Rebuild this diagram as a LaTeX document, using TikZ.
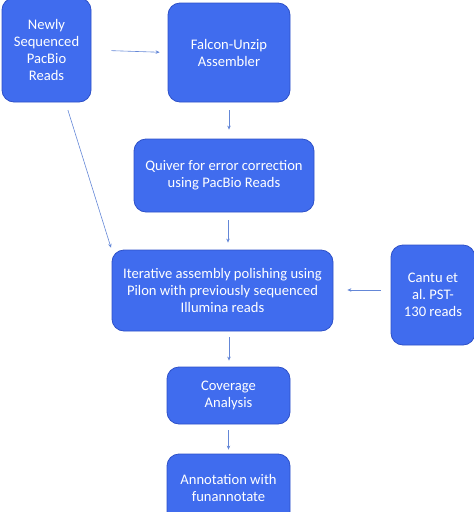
\documentclass[tikz,border=0pt]{standalone}
\usepackage{fontspec}
\setmainfont{Carlito}
\usetikzlibrary{arrows.meta}
\definecolor{boxfill}{RGB}{64,108,238}
\definecolor{boxedge}{RGB}{45,80,200}
\definecolor{arrcol}{RGB}{100,135,215}
\begin{document}
\begin{tikzpicture}[x=1pt,y=-1pt,
  box/.style={draw=boxedge,line width=0.8pt,fill=boxfill,rounded corners=12pt,
    text=white,align=center,font=\fontsize{14.6}{17}\selectfont,inner sep=0pt},
  arr/.style={draw=arrcol,line width=0.6pt,-{Stealth[length=4pt,width=3.5pt]}}]
\useasboundingbox (0,0) rectangle (474,512);
\node[box,minimum width=89pt,minimum height=104pt] (b1) at (46.5,50) {Newly\\Sequenced\\PacBio\\Reads};
\node[box,minimum width=122pt,minimum height=99pt] (b2) at (229,52.5) {Falcon-Unzip\\Assembler};
\node[box,minimum width=180pt,minimum height=73pt] (b3) at (224,175.5) {Quiver for error correction\\using PacBio Reads};
\node[box,minimum width=221pt,minimum height=81pt] (b4) at (222.5,290.5) {Iterative assembly polishing using\\Pilon with previously sequenced\\Illumina reads};
\node[box,minimum width=84pt,minimum height=100pt] (b5) at (433,295) {Cantu et\\al.\ PST-\\130 reads};
\node[box,minimum width=123pt,minimum height=57pt] (b6) at (228.5,395.5) {Coverage\\Analysis};
\node[box,minimum width=123pt,minimum height=72pt] (b7) at (228.5,490) {\raisebox{5pt}{\begin{tabular}{@{}c@{}}Annotation with\\funannotate\end{tabular}}};
\draw[arr,shorten <=20pt,shorten >=8pt] (b1.east) -- (b2.west);
\draw[arr,shorten <=8pt,shorten >=9pt] (b2.south) -- (b2.south |- b3.north);
\draw[arr,shorten <=8pt,shorten >=7pt] ([xshift=4pt]b3.south) -- ([xshift=4pt]b3.south |- b4.north);
\draw[arr,shorten <=6pt,shorten >=6pt] ([xshift=6.5pt]b4.south) -- ([xshift=6.5pt]b4.south |- b6.north);
\draw[arr,shorten <=6pt,shorten >=4pt] (b6.south) -- (b6.south |- b7.north);
\draw[arr,shorten <=10pt,shorten >=14pt] ([yshift=5pt]b5.west) -- ([yshift=5pt]b5.west -| b4.east);
\draw[arr,shorten <=8pt,shorten >=2pt] ([xshift=19pt]b1.south) -- (b4.north west);
\end{tikzpicture}
\end{document}
